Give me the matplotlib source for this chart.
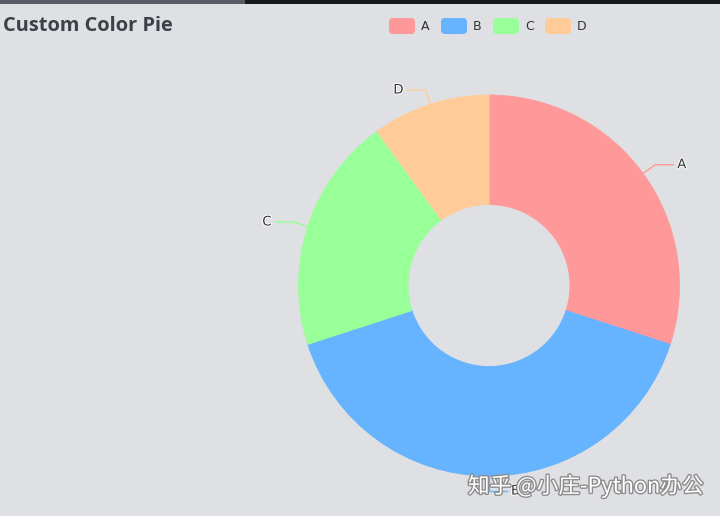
import matplotlib
matplotlib.use('Agg')
import matplotlib.pyplot as plt
from matplotlib.patches import FancyBboxPatch, Rectangle
import matplotlib.patheffects as pe
import numpy as np

categories = ['A', 'B', 'C', 'D']
values = [30, 40, 20, 10]
colors = ['#ff9999', '#66b3ff', '#99ff99', '#ffcc99']
title = 'Custom Color Pie'
watermark = '知乎 @小庄-Python办公'

W, H = 720, 516
fig = plt.figure(figsize=(7.2, 5.16), dpi=100)
fig.patch.set_facecolor('#dfe0e4')
ax = fig.add_axes([0, 0, 1, 1])
ax.set_facecolor('#dfe0e4')

cx, cy = 489, H - 285.5
R = 190.5
r_in = 81
wedges, _ = ax.pie(values, colors=colors, startangle=90, counterclock=False,
                   radius=R, center=(cx, cy), frame=True,
                   wedgeprops=dict(width=R - r_in, linewidth=0.6, antialiased=True))
for w, c in zip(wedges, colors):
    w.set_edgecolor(c)

ax.set_xlim(0, W)
ax.set_ylim(0, H)
ax.set_aspect('equal')
ax.axis('off')

# top strip
ax.add_patch(Rectangle((0, H - 4), 245, 4, color='#575c66', zorder=5, lw=0))
ax.add_patch(Rectangle((245, H - 4), W - 245, 4, color='#17191d', zorder=5, lw=0))

# slice labels with leader lines
L1, L2 = 15, 18
for w, lab, c in zip(wedges, categories, colors):
    mid = np.deg2rad((w.theta1 + w.theta2) / 2)
    x0, y0 = cx + R * np.cos(mid), cy + R * np.sin(mid)
    x1, y1 = cx + (R + L1) * np.cos(mid), cy + (R + L1) * np.sin(mid)
    sgn = 1 if np.cos(mid) >= -1e-6 else -1
    x2 = x1 + sgn * L2
    ax.plot([x0, x1, x2], [y0, y1, y1], color=c, lw=1, zorder=3)
    ax.text(x2 + sgn * 4, y1, lab, ha='left' if sgn > 0 else 'right', va='center',
            fontsize=9.5, color='#333333', zorder=4,
            path_effects=[pe.withStroke(linewidth=1.5, foreground='white')])

# title
ax.text(3, H - 26, title, fontsize=14.4, fontweight='bold', color='#3d4047',
        ha='left', va='center', family='Open Sans')

# legend
lx = 389
for lab, c in zip(categories, colors):
    ax.add_patch(FancyBboxPatch((lx, H - 34), 26, 16,
                                boxstyle='round,pad=0,rounding_size=4',
                                fc=c, ec='none', zorder=4))
    ax.text(lx + 32, H - 26, lab, fontsize=9, color='#333333', ha='left', va='center')
    lx += 52

# watermark
ax.text(468, H - 486, watermark, fontsize=15.6, color='white', ha='left', va='center',
        family=['Noto Sans CJK SC', 'DejaVu Sans'], zorder=10,
        path_effects=[pe.withStroke(linewidth=2, foreground='#8c8c8c')])

fig.savefig('out.png', dpi=100, facecolor=fig.get_facecolor())
